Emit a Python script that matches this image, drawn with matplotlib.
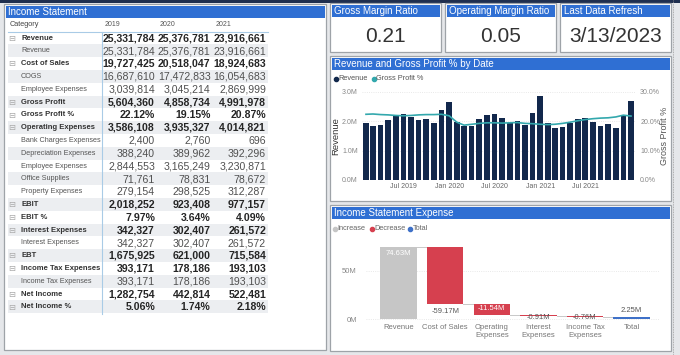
import numpy as np
import pandas as pd
import matplotlib
matplotlib.use("Agg")
import matplotlib.pyplot as plt
from matplotlib.patches import Rectangle
import matplotlib.dates as mdates

plt.rcParams['font.family'] = ['Liberation Sans', 'DejaVu Sans']

# ---------------- data ----------------
years = ["2019", "2020", "2021"]
row_labels = ["Revenue", "Revenue", "Cost of Sales", "COGS", "Employee Expenses",
              "Gross Profit", "Gross Profit %", "Operating Expenses",
              "Bank Charges Expenses", "Depreciation Expenses", "Employee Expenses",
              "Office Supplies", "Property Expenses", "EBIT", "EBIT %",
              "Interest Expenses", "Interest Expenses", "EBT", "Income Tax Expenses",
              "Income Tax Expenses", "Net Income", "Net Income %"]
row_is_total = [True, False, True, False, False, True, True, True, False, False, False,
                False, False, True, True, True, False, True, True, False, True, True]
row_is_pct = [False] * 6 + [True] + [False] * 7 + [True] + [False] * 6 + [True]
val_2019 = [25331784, 25331784, 19727425, 16687610, 3039814, 5604360, 22.12, 3586108,
            2400, 388240, 2844553, 71761, 279154, 2018252, 7.97, 342327, 342327,
            1675925, 393171, 393171, 1282754, 5.06]
val_2020 = [25376781, 25376781, 20518047, 17472833, 3045214, 4858734, 19.15, 3935327,
            2760, 389962, 3165249, 78831, 298525, 923408, 3.64, 302407, 302407,
            621000, 178186, 178186, 442814, 1.74]
val_2021 = [23916661, 23916661, 18924683, 16054683, 2869999, 4991978, 20.87, 4014821,
            696, 392296, 3230871, 78672, 312287, 977157, 4.09, 261572, 261572,
            715584, 193103, 193103, 522481, 2.18]

kpi_titles = ["Gross Margin Ratio", "Operating Margin Ratio", "Last Data Refresh"]
kpi_values = ["0.21", "0.05", "3/13/2023"]

months = pd.date_range("2019-01-31", periods=36, freq="ME")
revenue_m = [1.93, 1.83, 1.87, 2.04, 2.19, 2.25, 2.15, 2.03, 2.07, 1.93, 2.40, 2.66,
             1.98, 1.85, 1.85, 2.07, 2.21, 2.25, 2.13, 1.95, 2.00, 1.87, 2.27, 2.85,
             1.93, 1.76, 1.79, 1.94, 2.07, 2.12, 1.98, 1.85, 1.90, 1.76, 2.21, 2.70]
gross_profit_pct = [22.4, 22.5, 22.3, 22.2, 22.0, 21.9, 22.0, 22.2, 22.3, 22.3, 22.4, 21.9,
                    19.7, 18.7, 19.0, 19.3, 19.5, 19.5, 19.4, 19.5, 19.6, 19.3, 19.2, 19.0,
                    18.9, 19.0, 19.3, 19.7, 20.2, 20.6, 20.9, 21.1, 21.2, 21.5, 22.1, 21.8]

wf_labels = ["Revenue", "Cost of Sales", "Operating\nExpenses", "Interest\nExpenses",
             "Income Tax\nExpenses", "Total"]
wf_values = [74.63, -59.17, -11.54, -0.91, -0.76]

# ---------------- layout helpers ----------------
W, H = 680, 355
BLUE = '#2f6fd3'
fig = plt.figure(figsize=(W / 100, H / 100), dpi=100)
fig.patch.set_facecolor('#e5e7ea')


def fax(x, y, w, h):
    return [x / W, 1 - (y + h) / H, w / W, h / H]


bg = fig.add_axes([0, 0, 1, 1])
bg.set_xlim(0, W)
bg.set_ylim(H, 0)
bg.axis('off')

bg.add_patch(Rectangle((0, 0), W, 2.5, facecolor='#1f2f4f', edgecolor='none'))
bg.plot([673, 673], [0, H], ls=(0, (1, 1)), color='#9a9a9a', lw=0.6)


def panel(x0, y0, x1, y1, title, hh=12):
    bg.add_patch(Rectangle((x0, y0), x1 - x0, y1 - y0, facecolor='white',
                           edgecolor='#9ea3a8', lw=0.9))
    bg.add_patch(Rectangle((x0 + 1.5, y0 + 1.5), x1 - x0 - 3, hh, facecolor=BLUE,
                           edgecolor='none'))
    bg.text(x0 + 4, y0 + 1.5 + hh / 2 + 0.3, title, color='white', fontsize=7,
            va='center', ha='left')


# ---------------- table ----------------
panel(4, 4, 326, 350, "Income Statement")
bg.text(10, 24, "Category", fontsize=5.3, color='#444', va='center')
for j, yr in enumerate(years):
    bg.text([105, 160, 216][j], 24, yr, fontsize=5.0, color='#555', va='center')

row_y0, row_h = 38, 12.8
for i, lab in enumerate(row_labels):
    y = row_y0 + i * row_h
    if i % 2 == 1:
        bg.add_patch(Rectangle((8, y - row_h / 2), 260, row_h, facecolor='#eceef1',
                               edgecolor='none'))
    tot = row_is_total[i]
    if tot:
        bg.text(11.5, y + 0.3, "\u229f", fontsize=6, color='#a8a8a8', va='center',
                ha='center', family='DejaVu Sans')
    bg.text(21, y, lab, fontsize=5.5 if tot else 5.2,
            fontweight='bold' if tot else 'normal',
            color='#333' if tot else '#555', va='center')
    for j, vals in enumerate([val_2019, val_2020, val_2021]):
        v = vals[i]
        s = f"{v:.2f}%" if row_is_pct[i] else f"{v:,.0f}"
        bg.text([155, 210.5, 266][j], y + 0.3, s, fontsize=7.6, ha='right', va='center',
                fontweight='bold' if tot else 'normal',
                color='#252525' if tot else '#505050')

bg.plot([8, 268], [31.5, 31.5], color='#a9cbe6', lw=0.8)
bg.plot([102, 102], [31.5, 313.5], color='#a9cbe6', lw=0.8)

# ---------------- KPI cards ----------------
for k, (t, v) in enumerate(zip(kpi_titles, kpi_values)):
    x0 = 330 + k * 115
    panel(x0, 3, x0 + 111, 52, t, hh=12.5)
    bg.text(x0 + 55.5, 36, v, fontsize=15, color='#333', ha='center', va='center')

# ---------------- revenue chart ----------------
panel(330, 56, 671, 201, "Revenue and Gross Profit % by Date")
bg.plot([335.5], [79], 'o', ms=3, color='#12284c')
bg.text(338.5, 79, "Revenue", fontsize=5.3, color='#555', va='center')
bg.plot([373.5], [79], 'o', ms=3, color='#33a8ad')
bg.text(376.5, 79, "Gross Profit %", fontsize=5.3, color='#555', va='center')

ax1 = fig.add_axes(fax(362, 92, 274, 88))
ax1.set_facecolor('none')
ax1.bar(months, revenue_m, width=22, color='#12284c', zorder=2)
ax1.set_ylim(0, 3)
ax1.set_yticks([0, 1, 2, 3])
ax1.set_yticklabels([f"{t:.1f}M" for t in [0, 1, 2, 3]])
ax1.yaxis.grid(True, color='#e2e2e2', ls=':', lw=0.6, zorder=0)
ax1.set_xlim(pd.Timestamp('2019-01-15'), pd.Timestamp('2022-01-20'))
ax1.set_xticks(pd.date_range('2019-07-01', periods=5, freq='6MS'))
ax1.xaxis.set_major_formatter(mdates.DateFormatter('%b %Y'))
ax1.tick_params(axis='y', length=0, pad=3, labelsize=5, labelcolor='#888')
ax1.tick_params(axis='x', length=0, pad=2.5, labelsize=5, labelcolor='#666')
for s in ax1.spines.values():
    s.set_visible(False)

ax2 = ax1.twinx()
ax2.plot(months, gross_profit_pct, color='#33a8ad', lw=1.2)
ax2.set_ylim(0, 30)
ax2.set_yticks([0, 10, 20, 30])
ax2.set_yticklabels([f"{t:.1f}%" for t in [0, 10, 20, 30]])
ax2.tick_params(axis='y', length=0, pad=3, labelsize=5, labelcolor='#888')
for s in ax2.spines.values():
    s.set_visible(False)

fig.text(336 / W, 1 - 136 / H, "Revenue", rotation=90, fontsize=6.8, color='#333',
         ha='center', va='center')
fig.text(664.5 / W, 1 - 136 / H, "Gross Profit %", rotation=90, fontsize=6.5,
         color='#555', ha='center', va='center')

# ---------------- waterfall ----------------
panel(330, 205, 671, 351, "Income Statement Expense")
leg = [("Increase", '#c6c6c6', 334.5, 337.5), ("Decrease", '#d6404f', 371.5, 374.5),
       ("Total", '#3f71c8', 410, 413)]
for name, c, mx, tx in leg:
    bg.plot([mx], [228.5], 'o', ms=3, color=c)
    bg.text(tx, 228.5, name, fontsize=5.3, color='#666', va='center')

ax3 = fig.add_axes(fax(366, 241.7, 293.5, 79.3))
ax3.set_facecolor('none')
levels = np.concatenate([[0], np.cumsum(wf_values)])
total = levels[-1]
bw = 0.78
for i, v in enumerate(wf_values):
    lo = min(levels[i], levels[i + 1])
    ax3.bar(i, abs(v), bottom=lo, width=bw, color='#c6c6c6' if v > 0 else '#d6404f',
            zorder=2)
ax3.bar(len(wf_values), total, width=bw, color='#3f71c8', zorder=2)
for i in range(len(wf_values)):
    ax3.plot([i + bw / 2, i + 1 - bw / 2], [levels[i + 1]] * 2, color='#c8c8c8',
             lw=0.7, zorder=1)

label_vals = list(wf_values) + [total]
label_y = [levels[1], levels[2], levels[2], levels[4], levels[5], total]
label_dy = [-4.5, -5.5, -3, -0.8, -0.4, 4.5]
label_col = ['white', '#555', 'white', '#555', '#555', '#555']
for i, v in enumerate(label_vals):
    ax3.annotate(f"{v:.2f}M", (i, label_y[i]), xytext=(0, label_dy[i]),
                 textcoords='offset points', ha='center', va='center', fontsize=5.5,
                 color=label_col[i], zorder=3)

ax3.set_xlim(-0.7, 5.6)
ax3.set_ylim(-2, 80)
ax3.set_yticks([0, 50])
ax3.set_yticklabels(["0M", "50M"])
ax3.set_xticks(range(len(wf_labels)))
ax3.set_xticklabels(wf_labels)
ax3.yaxis.grid(True, color='#e2e2e2', ls=':', lw=0.6, zorder=0)
ax3.tick_params(axis='y', length=0, pad=6.5, labelsize=5.5, labelcolor='#888')
ax3.tick_params(axis='x', length=0, pad=2.5, labelsize=5.5, labelcolor='#777')
for s in ax3.spines.values():
    s.set_visible(False)

fig.savefig("out.png", dpi=100, facecolor=fig.get_facecolor())
